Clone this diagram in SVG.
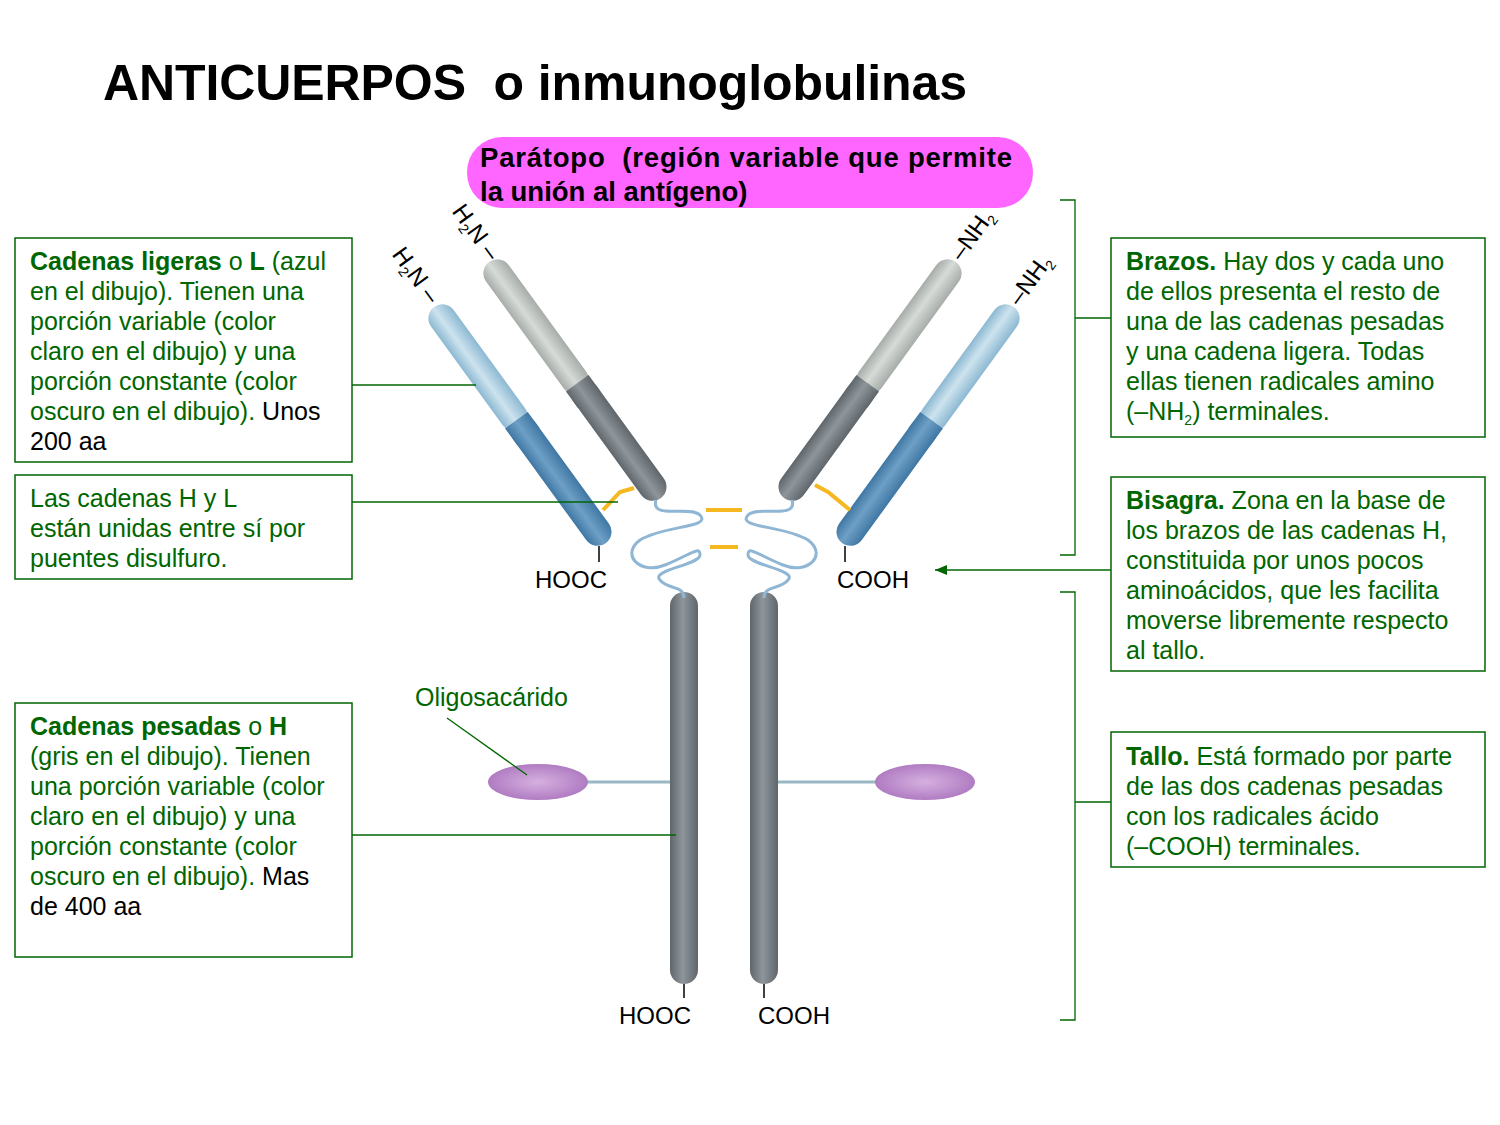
<svg xmlns="http://www.w3.org/2000/svg" width="1500" height="1125" viewBox="0 0 1500 1125">
<defs>
<style>
.t{font-family:"Liberation Sans",Arial,sans-serif;font-size:25px;fill:#006600}
.b{font-weight:bold}
.k{fill:#000}
.box{fill:#fff;stroke:#006600;stroke-width:1.5}
.ln{stroke:#006600;stroke-width:1.3;fill:none}
.ch{font-family:"Liberation Sans",Arial,sans-serif;font-size:24px;fill:#000}
.ss{stroke:#f5b820;stroke-width:4;fill:none}
.hinge{stroke:#8fb6d4;stroke-width:3;fill:none}
</style>
<linearGradient id="lb" x1="0" y1="0" x2="1" y2="0"><stop offset="0" stop-color="#8cb8d2"/><stop offset=".45" stop-color="#cde3ee"/><stop offset="1" stop-color="#8cb8d2"/></linearGradient>
<linearGradient id="db" x1="0" y1="0" x2="1" y2="0"><stop offset="0" stop-color="#3f77a3"/><stop offset=".45" stop-color="#6ea0c6"/><stop offset="1" stop-color="#3f77a3"/></linearGradient>
<linearGradient id="lg" x1="0" y1="0" x2="1" y2="0"><stop offset="0" stop-color="#a6aca8"/><stop offset=".45" stop-color="#d6dbd7"/><stop offset="1" stop-color="#a6aca8"/></linearGradient>
<linearGradient id="dg" x1="0" y1="0" x2="1" y2="0"><stop offset="0" stop-color="#5e666c"/><stop offset=".45" stop-color="#8e969c"/><stop offset="1" stop-color="#5e666c"/></linearGradient>
<radialGradient id="pu"><stop offset="0" stop-color="#d6b0e0"/><stop offset="1" stop-color="#b07cc2"/></radialGradient>
<marker id="ar" markerWidth="12" markerHeight="10" refX="12" refY="5" orient="auto" markerUnits="userSpaceOnUse"><path d="M0,0 L12,5 L0,10 z" fill="#006600"/></marker>
</defs>
<rect width="1500" height="1125" fill="#fff"/>
<text x="103" y="100" font-family="Liberation Sans,Arial,sans-serif" font-size="50" font-weight="bold" xml:space="preserve" textLength="864">ANTICUERPOS  o inmunoglobulinas</text>

<g id="paratopo">
<rect x="467" y="137" width="566" height="71" rx="35" fill="#ff66ff"/>
<text class="t k b" x="480" y="167" style="font-size:27.5px" xml:space="preserve" textLength="532">Parátopo  (región variable que permite</text>
<text class="t k b" x="480" y="201" style="font-size:27.5px">la unión al antígeno)</text>
</g>

<g id="anticuerpo">
<g transform="translate(440,315) rotate(-36)">
<rect x="-14" y="-10" width="28" height="150" rx="14" fill="url(#lb)"/>
<rect x="-14" y="130" width="28" height="152" rx="14" fill="url(#db)"/>
<rect x="-14" y="130" width="28" height="20" fill="url(#db)"/>
</g>
<g transform="translate(495,270) rotate(-36)">
<rect x="-14" y="-10" width="28" height="160" rx="14" fill="url(#lg)"/>
<rect x="-14" y="140" width="28" height="142" rx="14" fill="url(#dg)"/>
<rect x="-14" y="140" width="28" height="20" fill="url(#dg)"/>
</g>
<g transform="translate(950,270) rotate(36)">
<rect x="-14" y="-10" width="28" height="160" rx="14" fill="url(#lg)"/>
<rect x="-14" y="140" width="28" height="142" rx="14" fill="url(#dg)"/>
<rect x="-14" y="140" width="28" height="20" fill="url(#dg)"/>
</g>
<g transform="translate(1008,315) rotate(36)">
<rect x="-14" y="-10" width="28" height="150" rx="14" fill="url(#lb)"/>
<rect x="-14" y="130" width="28" height="152" rx="14" fill="url(#db)"/>
<rect x="-14" y="130" width="28" height="20" fill="url(#db)"/>
</g>
<rect x="670" y="592" width="28" height="392" rx="14" fill="url(#dg)"/>
<rect x="750" y="592" width="28" height="392" rx="14" fill="url(#dg)"/>
<path class="hinge" d="M656,500 C650,520 690,505 700,515 C712,528 665,525 640,540 C620,555 640,575 665,565 C690,555 700,545 700,555 C700,565 650,570 660,580 C668,590 684,585 684,598"/>
<path class="hinge" d="M792,500 C798,520 758,505 748,515 C736,528 783,525 808,540 C828,555 808,575 783,565 C758,555 748,545 748,555 C748,565 798,570 788,580 C780,590 764,585 764,598"/>
<line class="ss" x1="706" y1="510" x2="742" y2="510"/>
<line class="ss" x1="710" y1="547" x2="738" y2="547"/>
<path class="ss" d="M634,488 L620,492 L603,510"/>
<path class="ss" d="M815,485 L828,492 L850,510"/>
<line x1="585" y1="782" x2="670" y2="782" stroke="#9ab8c4" stroke-width="3"/>
<line x1="778" y1="782" x2="878" y2="782" stroke="#9ab8c4" stroke-width="3"/>
<ellipse cx="538" cy="782" rx="50" ry="18" fill="url(#pu)"/>
<ellipse cx="925" cy="782" rx="50" ry="18" fill="url(#pu)"/>
<g stroke="#000" stroke-width="1.5">
<line x1="599" y1="546" x2="599" y2="562"/>
<line x1="845" y1="546" x2="845" y2="562"/>
<line x1="684" y1="984" x2="684" y2="998"/>
<line x1="764" y1="984" x2="764" y2="998"/>
</g>
<text class="ch" x="535" y="588">HOOC</text>
<text class="ch" x="837" y="588">COOH</text>
<text class="ch" x="619" y="1024">HOOC</text>
<text class="ch" x="758" y="1024">COOH</text>
<text class="ch" transform="translate(488,262) rotate(54)" text-anchor="end">H<tspan font-size="14" dy="5">2</tspan><tspan dy="-5">N –</tspan></text>
<text class="ch" transform="translate(428,305) rotate(54)" text-anchor="end">H<tspan font-size="14" dy="5">2</tspan><tspan dy="-5">N –</tspan></text>
<text class="ch" transform="translate(962,262) rotate(-54)">–NH<tspan font-size="14" dy="5">2</tspan></text>
<text class="ch" transform="translate(1020,307) rotate(-54)">–NH<tspan font-size="14" dy="5">2</tspan></text>
</g>

<g id="connectors">
<line class="ln" x1="352" y1="385" x2="476" y2="385"/>
<line class="ln" x1="352" y1="502" x2="618" y2="502"/>
<line class="ln" x1="352" y1="835" x2="676" y2="835"/>
<line class="ln" x1="447" y1="718" x2="527" y2="775"/>
<path class="ln" d="M1060,200 H1075 V555 H1060 M1075,318 H1111"/>
<path class="ln" d="M1060,592 H1075 V1020 H1060 M1075,802 H1111"/>
<line class="ln" x1="1111" y1="570" x2="935" y2="570" marker-end="url(#ar)"/>
</g>

<g id="ligeras">
<rect class="box" x="15" y="238" width="337" height="224"/>
<text class="t" x="30" y="270"><tspan class="b">Cadenas ligeras</tspan> o <tspan class="b">L</tspan> (azul</text>
<text class="t" x="30" y="300">en el dibujo). Tienen una</text>
<text class="t" x="30" y="330">porción variable (color</text>
<text class="t" x="30" y="360">claro en el dibujo) y una</text>
<text class="t" x="30" y="390">porción constante (color</text>
<text class="t" x="30" y="420">oscuro en el dibujo). <tspan class="k">Unos</tspan></text>
<text class="t k" x="30" y="450">200 aa</text>
</g>
<g id="puentes">
<rect class="box" x="15" y="475" width="337" height="104"/>
<text class="t" x="30" y="507">Las cadenas H y L</text>
<text class="t" x="30" y="537">están unidas entre sí por</text>
<text class="t" x="30" y="567">puentes disulfuro.</text>
</g>
<g id="pesadas">
<rect class="box" x="15" y="703" width="337" height="254"/>
<text class="t" x="30" y="735"><tspan class="b">Cadenas pesadas</tspan> o <tspan class="b">H</tspan></text>
<text class="t" x="30" y="765">(gris en el dibujo). Tienen</text>
<text class="t" x="30" y="795">una porción variable (color</text>
<text class="t" x="30" y="825">claro en el dibujo) y una</text>
<text class="t" x="30" y="855">porción constante (color</text>
<text class="t" x="30" y="885">oscuro en el dibujo). <tspan class="k">Mas</tspan></text>
<text class="t k" x="30" y="915">de 400 aa</text>
</g>
<g id="oligo"><text class="t" x="415" y="706">Oligosacárido</text></g>
<g id="brazos">
<rect class="box" x="1111" y="238" width="374" height="199"/>
<text class="t" x="1126" y="270"><tspan class="b">Brazos.</tspan> Hay dos y cada uno</text>
<text class="t" x="1126" y="300">de ellos presenta el resto de</text>
<text class="t" x="1126" y="330">una de las cadenas pesadas</text>
<text class="t" x="1126" y="360">y una cadena ligera. Todas</text>
<text class="t" x="1126" y="390">ellas tienen radicales amino</text>
<text class="t" x="1126" y="420">(–NH<tspan font-size="14" dy="5">2</tspan><tspan dy="-5">) terminales.</tspan></text>
</g>
<g id="bisagra">
<rect class="box" x="1111" y="477" width="374" height="194"/>
<text class="t" x="1126" y="509"><tspan class="b">Bisagra.</tspan> Zona en la base de</text>
<text class="t" x="1126" y="539">los brazos de las cadenas H,</text>
<text class="t" x="1126" y="569">constituida por unos pocos</text>
<text class="t" x="1126" y="599">aminoácidos, que les facilita</text>
<text class="t" x="1126" y="629">moverse libremente respecto</text>
<text class="t" x="1126" y="659">al tallo.</text>
</g>
<g id="tallo">
<rect class="box" x="1111" y="732" width="374" height="135"/>
<text class="t" x="1126" y="765"><tspan class="b">Tallo.</tspan> Está formado por parte</text>
<text class="t" x="1126" y="795">de las dos cadenas pesadas</text>
<text class="t" x="1126" y="825">con los radicales ácido</text>
<text class="t" x="1126" y="855">(–COOH) terminales.</text>
</g>
</svg>
